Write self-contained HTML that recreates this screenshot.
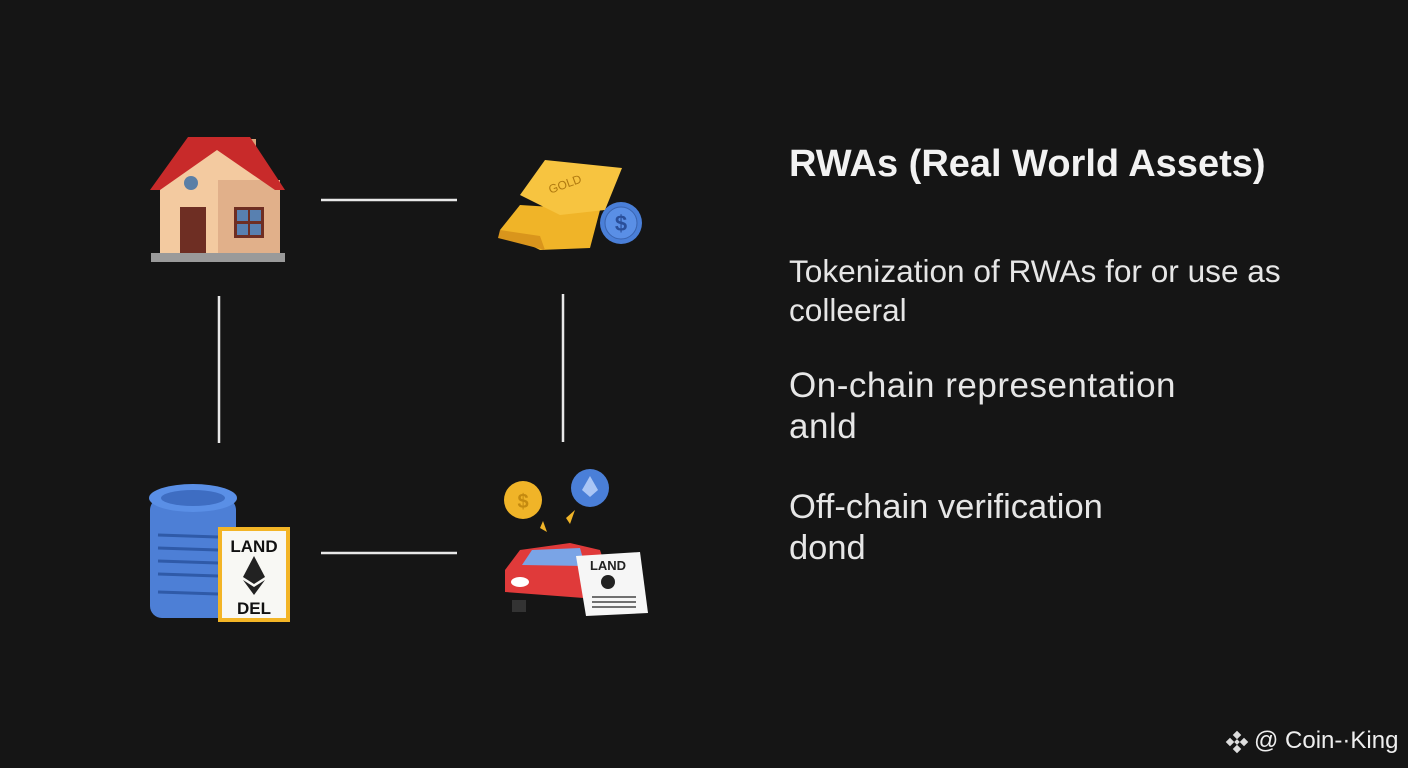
<!DOCTYPE html>
<html><head><meta charset="utf-8"><style>
html,body{margin:0;padding:0;background:#151515;}
body{width:1408px;height:768px;overflow:hidden;position:relative;font-family:"Liberation Sans",sans-serif;}
.t{position:absolute;color:#f2f2f2;white-space:nowrap;}
</style></head><body>
<svg width="1408" height="768" style="position:absolute;left:0;top:0">
<g stroke="#e8e8e8" stroke-width="2.5">
<line x1="321" y1="200" x2="457" y2="200"/>
<line x1="321" y1="553" x2="457" y2="553"/>
<line x1="219" y1="296" x2="219" y2="443"/>
<line x1="563" y1="294" x2="563" y2="442"/>
</g>
<!-- house -->
<rect x="238" y="139" width="18" height="30" fill="#d9a47a"/>
<polygon points="160,185 217,148 275,185" fill="#f3caa0"/>
<rect x="160" y="180" width="120" height="74" fill="#f3caa0"/>
<rect x="218" y="180" width="62" height="74" fill="#e1b08a"/>
<polygon points="150,190 188,137 250,137 285,190 275,190 217,150 160,190" fill="#c82a2a"/>
<circle cx="191" cy="183" r="7" fill="#5b7fa6"/>
<rect x="180" y="207" width="26" height="46" fill="#6e2e23"/>
<rect x="234" y="207" width="30" height="31" fill="#6e2e23"/>
<rect x="237" y="210" width="11" height="11" fill="#5880b0"/><rect x="250" y="210" width="11" height="11" fill="#5880b0"/>
<rect x="237" y="224" width="11" height="11" fill="#5880b0"/><rect x="250" y="224" width="11" height="11" fill="#5880b0"/>
<rect x="151" y="253" width="134" height="9" fill="#9a9a9a"/>
<!-- gold -->
<polygon points="500,230 520,205 600,210 590,248 540,250" fill="#f0b428"/>
<polygon points="520,195 545,160 622,168 605,210 560,215" fill="#f7c440"/>
<polygon points="500,230 540,236 545,250 498,238" fill="#d9951c"/>
<text x="548" y="190" font-size="12" fill="#b07a10" transform="rotate(-20 560 185)">GOLD</text>
<circle cx="621" cy="223" r="21" fill="#4a7fd8"/><circle cx="621" cy="223" r="16" fill="#5a8fe6" stroke="#3a64b0"/>
<text x="621" y="231" font-size="22" font-weight="bold" fill="#2a4f9a" text-anchor="middle">$</text>
<!-- database -->
<rect x="150" y="498" width="86" height="120" rx="12" fill="#4d7fd6"/>
<ellipse cx="193" cy="498" rx="44" ry="14" fill="#5a8fe6"/>
<ellipse cx="193" cy="498" rx="32" ry="8" fill="#3e6dc2"/>
<g stroke="#2f5aa8" stroke-width="3"><line x1="158" y1="535" x2="218" y2="537"/><line x1="158" y1="548" x2="218" y2="550"/><line x1="158" y1="561" x2="218" y2="563"/><line x1="158" y1="574" x2="218" y2="576"/><line x1="158" y1="592" x2="218" y2="594"/></g>
<rect x="218" y="527" width="72" height="95" fill="#f3b526"/>
<rect x="222" y="531" width="64" height="87" fill="#f8f8f4"/>
<text x="254" y="552" font-size="17" font-weight="bold" fill="#111" text-anchor="middle">LAND</text>
<polygon points="254,556 265,577 254,584 243,577" fill="#222"/><polygon points="243,580 254,587 265,580 254,595" fill="#222"/>
<text x="254" y="614" font-size="17" font-weight="bold" fill="#111" text-anchor="middle">DEL</text>
<!-- car -->
<circle cx="523" cy="500" r="19" fill="#f0b428"/><text x="523" y="508" font-size="20" font-weight="bold" fill="#c48a10" text-anchor="middle">$</text>
<circle cx="590" cy="488" r="19" fill="#4a7fd8"/><polygon points="590,476 598,490 590,497 582,490" fill="#a9c5f5"/>
<polygon points="543,521 547,532 540,528" fill="#f0b428"/><polygon points="575,510 570,524 566,518" fill="#f0b428"/>
<path d="M505 592 L505 570 L520 550 L570 543 L600 550 L610 580 L610 600 Z" fill="#e03a3a"/>
<polygon points="522,565 532,550 580,548 585,566" fill="#7aa4e6"/>
<ellipse cx="520" cy="582" rx="9" ry="5" fill="#fff"/>
<rect x="512" y="600" width="14" height="12" fill="#333"/>
<polygon points="576,556 640,552 648,613 586,616" fill="#f6f6f6"/>
<text x="608" y="570" font-size="13" font-weight="bold" fill="#222" text-anchor="middle">LAND</text>
<circle cx="608" cy="582" r="7" fill="#222"/>
<g stroke="#444" stroke-width="1.5"><line x1="592" y1="597" x2="636" y2="597"/><line x1="592" y1="602" x2="636" y2="602"/><line x1="592" y1="607" x2="636" y2="607"/></g>
<!-- watermark icon -->
<g fill="#ddd" transform="translate(1237,742)"><rect x="-3" y="-10" width="6" height="6" transform="rotate(45 0 -7)"/><rect x="-3" y="4" width="6" height="6" transform="rotate(45 0 7)"/><rect x="-10" y="-3" width="6" height="6" transform="rotate(45 -7 0)"/><rect x="4" y="-3" width="6" height="6" transform="rotate(45 7 0)"/><rect x="-2" y="-2" width="4" height="4" transform="rotate(45 0 0)"/></g>
</svg>
<div class="t" style="left:789px;top:143px;font-size:38px;font-weight:bold;">RWAs (Real World Assets)</div>
<div class="t" style="left:789px;top:252px;font-size:31.6px;line-height:39px;color:#e6e6e6">Tokenization of RWAs for or use as<br>colleeral</div>
<div class="t" style="left:789px;top:365px;font-size:35px;line-height:41px;color:#e6e6e6;letter-spacing:0.5px">On-chain representation<br>anld</div>
<div class="t" style="left:789px;top:487px;font-size:34.5px;line-height:41px;color:#e6e6e6">Off-chain verification<br>dond</div>
<div class="t" style="left:1254px;top:727px;font-size:24px;color:#eee">@ Coin-·King</div>
</body></html>
